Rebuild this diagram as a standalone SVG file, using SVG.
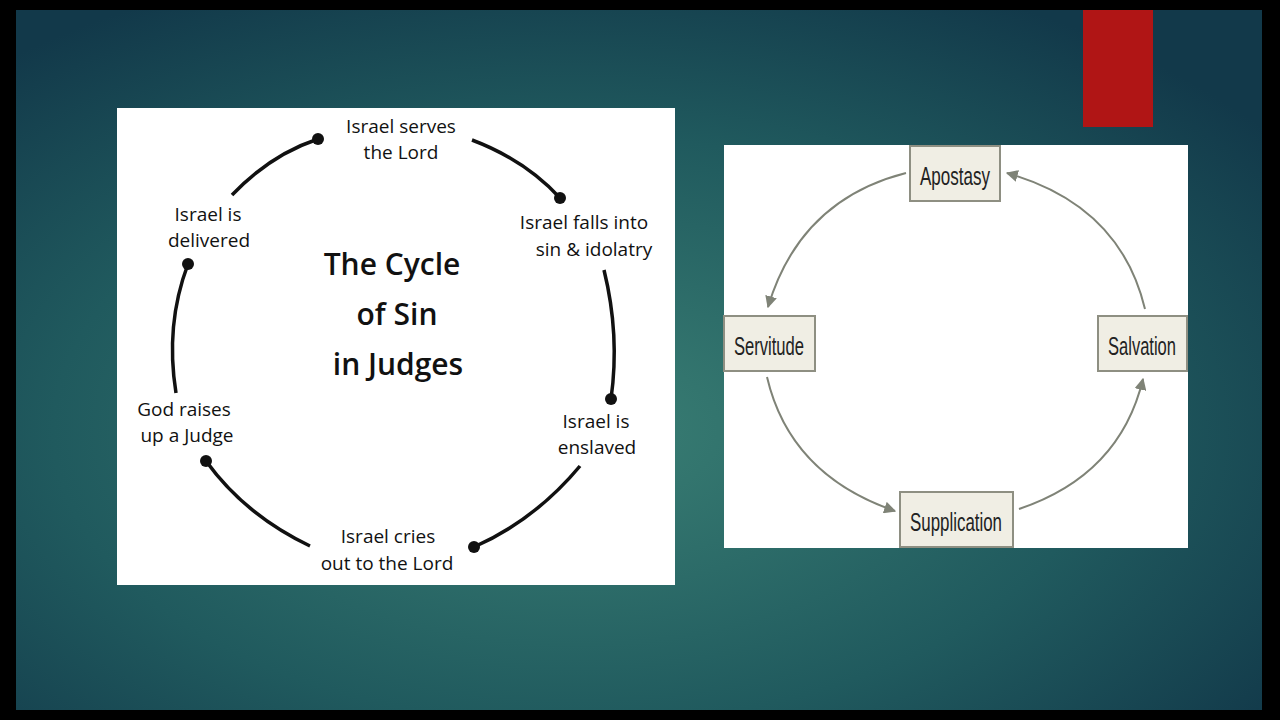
<svg xmlns="http://www.w3.org/2000/svg" width="1280" height="720" viewBox="0 0 1280 720">
<defs>
<radialGradient id="bg" cx="0.45" cy="0.6" r="0.7">
<stop offset="0" stop-color="#3a7f74"/>
<stop offset="0.6" stop-color="#205a5e"/>
<stop offset="1" stop-color="#12394a"/>
</radialGradient>
<marker id="ah" viewBox="0 0 10 10" refX="9" refY="5" markerWidth="6" markerHeight="6" orient="auto"><path d="M0,0 L10,5 L0,10 z" fill="#7f8377"/></marker>
<style>
.arc{fill:none;stroke:#111;stroke-width:3.5}
.dot{fill:#111}
.lt{font-family:"Open Sans","DejaVu Sans",sans-serif;font-size:19px;fill:#111;text-anchor:middle}
.tt{font-family:"Open Sans","DejaVu Sans",sans-serif;font-size:30px;font-weight:600;fill:#111;text-anchor:middle}
.box{fill:#f0eee4;stroke:#8e8f82;stroke-width:2}
.bt{font-family:"Liberation Sans","DejaVu Sans",sans-serif;font-size:26px;fill:#222;text-anchor:middle}
.ra{fill:none;stroke:#7f8377;stroke-width:2;marker-end:url(#ah)}
</style>
</defs>
<rect width="1280" height="720" fill="#000"/>
<rect x="16" y="10" width="1246" height="700" fill="url(#bg)"/>
<rect x="1083" y="10" width="70" height="117" fill="#b01515"/>
<g id="cycle-sin">
<rect x="117" y="108" width="558" height="477" fill="#fff"/>
<g id="arcs-left">
<path class="arc" d="M232,195 Q270,155 318,139"/>
<path class="arc" d="M472,140 Q525,160 560,198"/>
<path class="arc" d="M604,270 Q620,335 611,399"/>
<path class="arc" d="M580,466 Q535,520 474,547"/>
<path class="arc" d="M310,546 Q245,515 206,461"/>
<path class="arc" d="M176,393 Q165,325 188,264"/>
<circle class="dot" cx="318" cy="139" r="6"/>
<circle class="dot" cx="560" cy="198" r="6"/>
<circle class="dot" cx="611" cy="399" r="6"/>
<circle class="dot" cx="474" cy="547" r="6"/>
<circle class="dot" cx="206" cy="461" r="6"/>
<circle class="dot" cx="188" cy="264" r="6"/>
</g>
<text class="lt" x="401" y="133">Israel serves</text><text class="lt" x="401" y="159">the Lord</text>
<text class="lt" x="584" y="229">Israel falls into</text><text class="lt" x="594" y="256">sin &amp; idolatry</text>
<text class="lt" x="596" y="428">Israel is</text><text class="lt" x="597" y="454">enslaved</text>
<text class="lt" x="388" y="543">Israel cries</text><text class="lt" x="387" y="570">out to the Lord</text>
<text class="lt" x="184" y="416">God raises</text><text class="lt" x="187" y="442">up a Judge</text>
<text class="lt" x="208" y="221">Israel is</text><text class="lt" x="209" y="247">delivered</text>
<text class="tt" x="392" y="275">The Cycle</text>
<text class="tt" x="397" y="325">of Sin</text>
<text class="tt" x="398" y="375">in Judges</text>
</g>
<g id="cycle-right">
<rect x="724" y="145" width="464" height="403" fill="#fff"/>
<g id="connectors">
<path class="ra" d="M906,173 Q800,200 768,307"/>
<path class="ra" d="M767,377 Q790,475 895,511"/>
<path class="ra" d="M1019,509 Q1120,475 1143,379"/>
<path class="ra" d="M1145,309 Q1120,205 1007,173"/>
</g>
<g id="n-apostasy"><rect class="box" x="910" y="146" width="90" height="55"/><text class="bt" x="955" y="185" textLength="70" lengthAdjust="spacingAndGlyphs">Apostasy</text></g>
<g id="n-servitude"><rect class="box" x="724" y="316" width="91" height="55"/><text class="bt" x="769" y="355" textLength="70" lengthAdjust="spacingAndGlyphs">Servitude</text></g>
<g id="n-salvation"><rect class="box" x="1098" y="316" width="89" height="55"/><text class="bt" x="1142" y="355" textLength="68" lengthAdjust="spacingAndGlyphs">Salvation</text></g>
<g id="n-supplication"><rect class="box" x="900" y="492" width="113" height="55"/><text class="bt" x="956" y="531" textLength="92" lengthAdjust="spacingAndGlyphs">Supplication</text></g>
</g>
</svg>
